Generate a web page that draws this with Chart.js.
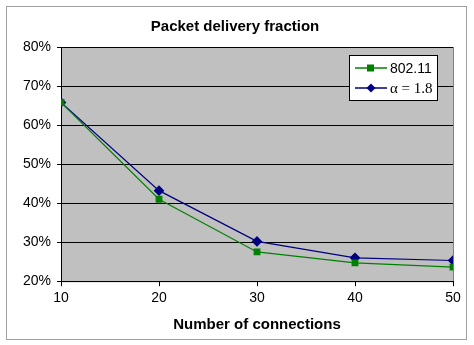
<!DOCTYPE html>
<html>
<head>
<meta charset="utf-8">
<script src="https://cdn.jsdelivr.net/npm/chart.js@4/dist/chart.umd.min.js"></script>
<style>
  html, body { margin: 0; padding: 0; background: #fff; }
  #wrap { width: 474px; height: 345px; }
</style>
</head>
<body>
<div id="wrap"><canvas id="chart" width="474" height="345"></canvas></div>
<script>
// data
const connections = [10, 20, 30, 40, 50];
const ieee80211 = [0.658, 0.410, 0.275, 0.247, 0.236];
const alpha18 = [0.658, 0.432, 0.302, 0.260, 0.253];
const seriesLabels = ['802.11', '\u03b1 = 1.8'];

const toPoints = (ys) => connections.map((x, i) => ({ x: x, y: ys[i] }));

// grey plot area + outer frame
const backdrop = {
    id: 'backdrop',
    beforeDraw(chart) {
        const ctx = chart.ctx;
        const a = chart.chartArea;
        ctx.save();
        ctx.fillStyle = '#fff';
        ctx.fillRect(0, 0, chart.width, chart.height);
        ctx.strokeStyle = '#a0a0a0';
        ctx.lineWidth = 1;
        ctx.strokeRect(6.5, 6.5, 460, 333);
        ctx.fillStyle = '#c0c0c0';
        ctx.fillRect(a.left, a.top, a.right - a.left, a.bottom - a.top);
        ctx.strokeStyle = '#808080';
        ctx.strokeRect(a.left + 0.5, a.top + 0.5, a.right - a.left, a.bottom - a.top);
        ctx.restore();
    }
};

// legend box inside the plot, like the spreadsheet one
const boxLegend = {
    id: 'boxLegend',
    afterDraw(chart) {
        const ctx = chart.ctx;
        const a = chart.chartArea;
        const w = 88, h = 45;
        const x = a.right - 104, y = a.top + 8;
        ctx.save();
        ctx.fillStyle = '#fff';
        ctx.fillRect(x, y, w, h);
        ctx.strokeStyle = '#000';
        ctx.lineWidth = 1;
        ctx.strokeRect(x + 0.5, y + 0.5, w, h);
        chart.data.datasets.forEach((ds, i) => {
            const cy = y + 13 + i * 20;
            ctx.strokeStyle = ds.borderColor;
            ctx.lineWidth = 1.5;
            ctx.beginPath();
            ctx.moveTo(x + 6, cy);
            ctx.lineTo(x + 38, cy);
            ctx.stroke();
            ctx.fillStyle = ds.backgroundColor;
            if (ds.pointStyle === 'rect') {
                ctx.fillRect(x + 18, cy - 3.5, 7, 7);
            } else {
                ctx.beginPath();
                ctx.moveTo(x + 22, cy - 4.5);
                ctx.lineTo(x + 26.5, cy);
                ctx.lineTo(x + 22, cy + 4.5);
                ctx.lineTo(x + 17.5, cy);
                ctx.closePath();
                ctx.fill();
            }
            ctx.fillStyle = '#000';
            ctx.textBaseline = 'middle';
            ctx.font = i === 0 ? '14px "Liberation Sans", Arial' : '15px "Liberation Serif", "Times New Roman"';
            ctx.fillText(ds.label, x + 41, cy + 1);
        });
        ctx.restore();
    }
};

new Chart(document.getElementById('chart'), {
    type: 'line',
    data: {
        datasets: [
            {
                label: seriesLabels[0],
                data: toPoints(ieee80211),
                borderColor: '#008000',
                backgroundColor: '#008000',
                pointStyle: 'rect',
                pointRadius: 4,
                borderWidth: 1.2,
                tension: 0
            },
            {
                label: seriesLabels[1],
                data: toPoints(alpha18),
                borderColor: '#000080',
                backgroundColor: '#000080',
                pointStyle: 'rectRot',
                pointRadius: 4.5,
                borderWidth: 1.2,
                tension: 0
            }
        ]
    },
    options: {
        responsive: false,
        animation: false,
        layout: { padding: { left: 17, right: 21, top: 6, bottom: 7 } },
        plugins: {
            legend: { display: false },
            tooltip: { enabled: false },
            title: {
                display: true,
                text: 'Packet delivery fraction',
                color: '#000',
                font: { family: '"Liberation Sans", Arial', size: 15, weight: 'bold' },
                padding: { top: 12, bottom: 11 }
            }
        },
        scales: {
            x: {
                type: 'linear',
                min: 10,
                max: 50,
                ticks: {
                    stepSize: 10,
                    color: '#000',
                    padding: 4,
                    font: { family: '"Liberation Sans", Arial', size: 14 }
                },
                grid: { display: true, drawOnChartArea: false, color: '#000', tickLength: 5 },
                border: { color: '#000' },
                title: {
                    display: true,
                    text: 'Number of connections',
                    color: '#000',
                    font: { family: '"Liberation Sans", Arial', size: 15, weight: 'bold' },
                    padding: { top: 5 }
                }
            },
            y: {
                min: 0.2,
                max: 0.8,
                ticks: {
                    stepSize: 0.1,
                    color: '#000',
                    padding: 6,
                    font: { family: '"Liberation Sans", Arial', size: 14 },
                    callback: (v) => Math.round(v * 100) + '%'
                },
                grid: { color: '#000', tickLength: 4 },
                border: { color: '#000' }
            }
        }
    },
    plugins: [backdrop, boxLegend]
});
</script>
</body>
</html>
